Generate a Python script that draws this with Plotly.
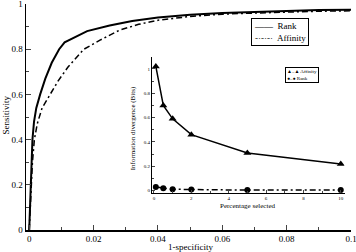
import plotly.graph_objects as go

# Main ROC curves
rank_x = [0, 0.0003, 0.0006, 0.001, 0.0015, 0.0022, 0.0034, 0.005, 0.007, 0.0093, 0.011, 0.014, 0.018, 0.025, 0.032, 0.04, 0.05, 0.06, 0.07, 0.08, 0.09, 0.1]
rank_y = [0, 0.12, 0.22, 0.40, 0.48, 0.54, 0.60, 0.67, 0.74, 0.80, 0.83, 0.85, 0.88, 0.905, 0.925, 0.94, 0.952, 0.96, 0.965, 0.97, 0.973, 0.975]
aff_x = [0, 0.0003, 0.0006, 0.001, 0.0016, 0.0025, 0.004, 0.0065, 0.009, 0.012, 0.017, 0.022, 0.028, 0.034, 0.04, 0.05, 0.06, 0.07, 0.08, 0.09, 0.1]
aff_y = [0, 0.1, 0.2, 0.3, 0.40, 0.47, 0.54, 0.60, 0.66, 0.72, 0.80, 0.84, 0.884, 0.91, 0.928, 0.945, 0.955, 0.96, 0.965, 0.968, 0.97]

# Inset: information divergence
pct = [0.1, 0.5, 1, 2, 5, 10]
div_aff = [1.02, 0.70, 0.59, 0.46, 0.31, 0.22]
div_rank = [0.03, 0.02, 0.012, 0.01, 0.005, 0.005]

main_xticks = [0, 0.02, 0.04, 0.06, 0.08, 0.1]
main_xlabels = ["0", "0.02", "0.04", "0.06", "0.08", "0.1"]
main_yticks = [0, 0.2, 0.4, 0.6, 0.8, 1]
main_ylabels = ["0", "0.2", "0.4", "0.6", "0.8", "1"]
inset_xticks = [0, 2, 4, 6, 8, 10]
inset_yticks = [0, 0.2, 0.4, 0.6, 0.8, 1]
inset_ylabels = ["0", "0.2", "0.4", "0.6", "0.8", "1"]

FONT = "Liberation Serif"
DASHDOT = "6px,3px,2px,3px"

fig = go.Figure()
fig.add_trace(go.Scatter(x=rank_x, y=rank_y, mode="lines", name="Rank",
                         line=dict(color="black", width=2)))
fig.add_trace(go.Scatter(x=aff_x, y=aff_y, mode="lines", name="Affinity",
                         line=dict(color="black", width=1.5, dash=DASHDOT)))

fig.add_trace(go.Scatter(x=pct, y=div_aff, mode="lines+markers", name="Affinity",
                         xaxis="x2", yaxis="y2",
                         line=dict(color="black", width=1.5),
                         marker=dict(symbol="triangle-up", size=7, color="black")))
fig.add_trace(go.Scatter(x=pct, y=div_rank, mode="lines+markers", name="Rank",
                         xaxis="x2", yaxis="y2",
                         line=dict(color="black", width=1.5, dash=DASHDOT),
                         marker=dict(symbol="circle", size=6, color="black")))

common = dict(showgrid=False, zeroline=False, automargin=False, ticklabeloverflow="allow",
              showline=True, linecolor="black")

fig.update_layout(
    width=356, height=252,
    margin=dict(l=26, r=5, t=4, b=22),
    paper_bgcolor="white", plot_bgcolor="white",
    font=dict(family=FONT, color="black", size=9),
    showlegend=False,
    hovermode=False,
    xaxis=dict(range=[-0.001, 0.1], tickvals=main_xticks, ticktext=main_xlabels,
               linewidth=1.5, ticks="inside", ticklen=5,
               minor=dict(ticks="inside", ticklen=3, dtick=0.01, tick0=0),
               tickfont=dict(size=9), **common),
    yaxis=dict(range=[0, 1.0], tickvals=main_yticks, ticktext=main_ylabels,
               linewidth=1.5, ticks="inside", ticklen=5,
               minor=dict(ticks="inside", ticklen=3, dtick=0.1, tick0=0),
               tickfont=dict(size=9), **common),
    xaxis2=dict(domain=[0.388, 0.98], anchor="y2", range=[-0.1, 10.2], tickvals=inset_xticks,
                linewidth=1, ticks="inside", ticklen=3,
                minor=dict(ticks="inside", ticklen=2, dtick=1, tick0=0),
                tickfont=dict(size=5), **common),
    yaxis2=dict(domain=[0.163, 0.767], anchor="x2", range=[-0.02, 1.1], tickvals=inset_yticks,
                ticktext=inset_ylabels,
                linewidth=1, ticks="inside", ticklen=3,
                minor=dict(ticks="inside", ticklen=2, dtick=0.1, tick0=0),
                tickfont=dict(size=5), **common),
    annotations=[
        dict(text="1-specificity", xref="paper", yref="paper", x=0.505, y=-0.075,
             xanchor="center", yanchor="middle", showarrow=False, font=dict(size=9, color="black")),
        dict(text="Sensitivity", xref="paper", yref="paper", x=-0.0615, y=0.507,
             xanchor="center", yanchor="middle", showarrow=False, textangle=-90,
             font=dict(size=9, color="black")),
        dict(text="Percentage selected", xref="paper", yref="paper", x=0.683, y=0.108,
             xanchor="center", yanchor="middle", showarrow=False, font=dict(size=7, color="black")),
        dict(text="Information divergence (Bits)", xref="paper", yref="paper", x=0.329, y=0.45,
             xanchor="center", yanchor="middle", showarrow=False, textangle=-90,
             font=dict(size=7, color="black")),
        dict(text="——  Rank<br>-·-·-·  Affinity", xref="paper", yref="paper", x=0.7815, y=0.877,
             xanchor="center", yanchor="middle", showarrow=False, align="left",
             bordercolor="black", borderwidth=1, borderpad=2, bgcolor="white",
             font=dict(size=9, color="black")),
        dict(text="▲‒▲ Affinity<br>●‒● Rank", xref="paper", yref="paper", x=0.850, y=0.685,
             xanchor="center", yanchor="middle", showarrow=False, align="left",
             bordercolor="black", borderwidth=1, borderpad=1, bgcolor="white",
             font=dict(size=5, color="black")),
    ],
)

fig.write_html("out.html", config={"displayModeBar": False, "staticPlot": True},
               post_script="document.body.style.margin='0';")
